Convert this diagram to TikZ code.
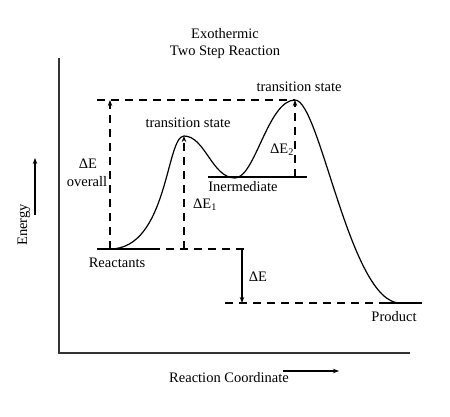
\documentclass[tikz,border=0pt]{standalone}
\usepackage{fontspec}
\setmainfont{Liberation Serif}
\usetikzlibrary{arrows.meta,positioning,calc}

\begin{document}
\begin{tikzpicture}[
            x=1pt, y=-1pt,
            every node/.style={font=\fontsize{14.5}{16}\selectfont, inner sep=1pt},
            ln/.style={line width=1.2pt},
            dsh/.style={line width=1.2pt, dash pattern=on 8pt off 6pt},
            tip/.style={-{Stealth[length=6pt,width=4.5pt]}},
        ]
            \useasboundingbox (0,0) rectangle (450,417);
            \node (ttl1) at (225,34) {Exothermic};
            \node (ttl2) at (225,52) {Two Step Reaction};
            % axes
            \coordinate (ytop) at (59,58);
            \coordinate (orig) at (59,353);
            \coordinate (xend) at (410,353);
            \draw[ln, black!80] (ytop) -- (orig) -- (xend);
            \node[rotate=90] (energy) at (24,225) {Energy};
            \coordinate (en0) at (35,215);
            \coordinate (en1) at (35,158);
            \draw[ln, tip] (en0) -- (en1);
            \node (rxc) at (229,378) {Reaction Coordinate};
            \coordinate (rc0) at (283,371);
            \coordinate (rc1) at (339,371);
            \draw[ln, tip] (rc0) -- (rc1);
            % energy profile
            \coordinate (react) at (110,249);
            \coordinate (ts1) at (184,136);
            \coordinate (inter) at (235,178);
            \coordinate (ts2) at (295,100);
            \coordinate (prod) at (400,303);
            \draw[ln] (react) .. controls (168,249) and (166,136) .. (ts1)
                .. controls (205,136) and (212,178) .. (inter)
                .. controls (255,178) and (268,100) .. (ts2)
                .. controls (320,100) and (350,303) .. (prod);
            % levels
            \coordinate (rl) at (97,249);
            \coordinate (rr) at (152,249);
            \coordinate (rd) at (248,249);
            \coordinate (il) at (208,177);
            \coordinate (ir) at (307,177);
            \coordinate (pl) at (225,303);
            \coordinate (pm) at (385,303);
            \coordinate (pr) at (422,303);
            \coordinate (tl) at (97,100);
            \draw[ln] (rl) -- (rr);
            \draw[dsh] (rr) -- (rd);
            \draw[ln] (il) -- (ir);
            \draw[dsh] (pl) -- (pm);
            \draw[ln] (pm) -- (pr);
            \draw[dsh] (tl) -- (ts2);
            % energy differences
            \draw[dsh, tip] (react) -- (react |- ts2);
            \draw[dsh, tip] (ts1 |- react) -- (ts1);
            \draw[dsh, tip] (ts2 |- il) -- (ts2);
            \coordinate (dtop) at (242,249);
            \draw[ln, tip] (dtop) -- (dtop |- prod);
            % labels
            \node (lts1) at (188,123) {transition state};
            \node (lts2) at (299,87) {transition state};
            \node (ldeo) at (88,164) {ΔE};
            \node (lovr) at (87,182) {overall};
            \node (linter) at (243,187) {Inermediate};
            \node (lde1) at (205,205) {ΔE\textsubscript{1}};
            \node (lde2) at (282,150) {ΔE\textsubscript{2}};
            \node (lreact) at (117,263) {Reactants};
            \node (lde) at (258,277) {ΔE};
            \node (lprod) at (394,317) {Product};
        \end{tikzpicture}
\end{document}
